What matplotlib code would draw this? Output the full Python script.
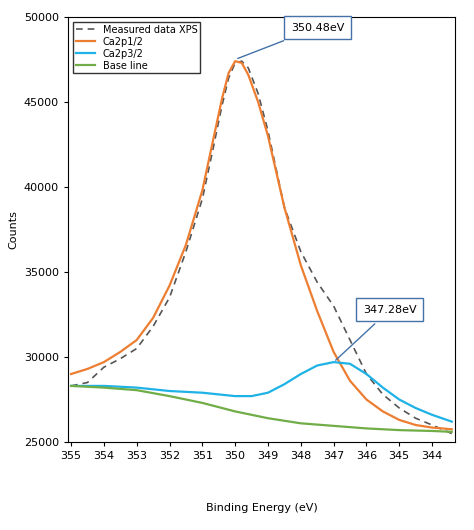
import matplotlib
matplotlib.use("Agg")
import matplotlib.pyplot as plt

x_or = [355,354.5,354,353.5,353,352.5,352,351.5,351,350.7,350.4,350.2,350,349.8,349.6,349.3,349,348.5,348,347.5,347,346.5,346,345.5,345,344.5,344,343.4]
y_or = [29000,29300,29700,30300,31000,32300,34200,36600,39800,42500,45200,46700,47400,47300,46600,45000,43000,38800,35400,32700,30300,28600,27500,26800,26300,26000,25850,25750]
x_bl = [355,354,353,352,351,350.5,350,349.5,349,348.5,348,347.5,347,346.5,346,345.5,345,344.5,344,343.4]
y_bl = [28300,28300,28200,28000,27900,27800,27700,27700,27900,28400,29000,29500,29700,29600,29000,28200,27500,27000,26600,26200]
x_gr = [355,354,353,352,351,350,349,348,347,346,345,344,343.4]
y_gr = [28300,28200,28050,27700,27300,26800,26400,26100,25950,25800,25700,25650,25600]
x_ms = [355,354.5,354,353.5,353,352.5,352,351.5,351,350.7,350.4,350.2,350,349.8,349.6,349.3,349,348.5,348,347.5,347,346.5,346,345.5,345,344.5,344,343.4]
y_ms = [28300,28500,29400,29900,30500,31800,33500,36200,39300,42000,44800,46400,47300,47400,47000,45500,43300,38800,36200,34400,33000,31000,29000,27800,27000,26400,26000,25500]

fig = plt.figure(figsize=(4.74,5.30), dpi=100)
ax = fig.add_axes([0.143, 0.166, 0.817, 0.802])
ax.plot(x_ms, y_ms, ls=(0,(4,3)), color="#555555", lw=1.2, label="Measured data XPS")
ax.plot(x_or, y_or, color="#ED7D31", lw=1.6, label="Ca2p1/2")
ax.plot(x_bl, y_bl, color="#1FB2E6", lw=1.6, label="Ca2p3/2")
ax.plot(x_gr, y_gr, color="#70AD47", lw=1.6, label="Base line")
ax.set_xlim(355.1, 343.3)
ax.set_ylim(25000, 50000)
ax.set_xticks(range(355, 343, -1))
ax.set_yticks(range(25000, 50001, 5000))
ax.tick_params(labelsize=8, length=3)
ax.set_xlabel("Binding Energy (eV)", fontsize=8, labelpad=30)
ax.set_ylabel("Counts", fontsize=8)
ax.legend(loc="upper left", fontsize=7, frameon=True, fancybox=False, edgecolor="black", borderpad=0.3, labelspacing=0.2)
bbox = dict(boxstyle="square,pad=0.6", fc="white", ec="#4472A8", lw=1)
ax.annotate("350.48eV", xy=(350.0, 47500), xytext=(348.3, 49200), fontsize=8, bbox=bbox,
            arrowprops=dict(arrowstyle="-", color="#4472A8"))
ax.annotate("347.28eV", xy=(347.0, 29700), xytext=(346.1, 32600), fontsize=8, bbox=bbox,
            arrowprops=dict(arrowstyle="-", color="#4472A8"))
fig.savefig("out.png")
